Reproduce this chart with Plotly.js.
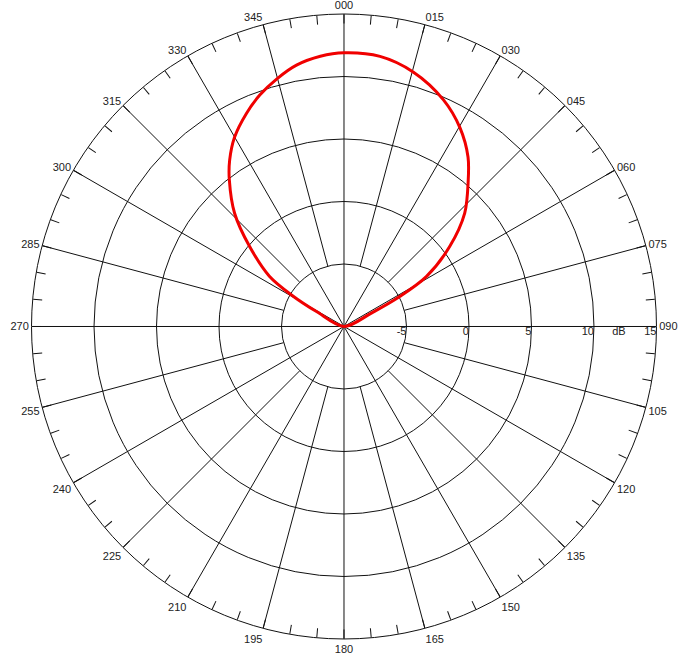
<!DOCTYPE html>
<html>
<head>
<meta charset="utf-8">
<script src="https://cdn.plot.ly/plotly-3.0.1.min.js"></script>
<style>html,body{margin:0;padding:0;background:#fff;}#chart{width:683px;height:658px;}</style>
</head>
<body>
<div id="chart"></div>
<script>
// Pattern data (angle in degrees, level in dB)
var patternTheta = [-64, -61.5, -59, -56, -49.7, -44, -38, -34.5, -30, -24.6, -20, -15, -10.3, -5, 0, 7.6, 15.2, 23.7, 30.3, 36.2, 40.5, 46.8, 52.9, 58.8, 61.7, 63.9, 66];
var patternDb    = [-10, -7.5, -5.1, -2.8, -0.1, 2.6, 4.9, 6.15, 7.5, 8.75, 9.7, 10.55, 11.25, 11.7, 11.9, 11.8, 11.1, 9.8, 8.4, 6.8, 5.3, 3.25, 0.6, -2.3, -4.9, -7.6, -10];

// Axis configuration
var radialRange = [-10, 15];
var radialTicks = [-5, 0, 5, 10, 15];
var radialUnit = 'dB';
var spokeStep = 15;      // spokes every 15 degrees
var innerSpokeStep = 30; // spokes reaching the centre every 30 degrees
var innerRing = -5;
var minorTickStep = 5;
var labelAngle = 90;     // direction along which radial labels are written
var unitPos = 12;        // where the unit label sits on the radial scale

// Build spokes
var spokeR = [], spokeT = [];
for (var a = 0; a < 360; a += spokeStep) {
  var start = (a % innerSpokeStep === 0) ? radialRange[0] : innerRing;
  spokeR.push(start, radialRange[1], null);
  spokeT.push(a, a, null);
}

// Angular ticks & labels
var angTickVals = [], angTickText = [];
for (var t = 0; t < 360; t += minorTickStep) {
  angTickVals.push(t);
  angTickText.push(t % spokeStep === 0 ? ('00' + t).slice(-3) : '');
}

var txtFont = {family: 'Liberation Sans, Arial', size: 11, color: '#222'};

var traces = [
  {
    type: 'scatterpolar', mode: 'lines', r: spokeR, theta: spokeT,
    line: {color: '#111', width: 1}, hoverinfo: 'skip', showlegend: false, connectgaps: false
  },
  {
    type: 'scatterpolar', mode: 'lines', r: patternDb, theta: patternTheta,
    line: {color: 'rgb(240,0,0)', width: 3, shape: 'spline', smoothing: 0.9},
    showlegend: false
  },
  {
    type: 'scatterpolar', mode: 'text', r: radialTicks,
    theta: radialTicks.map(function(){return labelAngle;}),
    text: radialTicks.map(String),
    textposition: 'bottom left', textfont: txtFont,
    showlegend: false, hoverinfo: 'skip', cliponaxis: false
  },
  {
    type: 'scatterpolar', mode: 'text', r: [unitPos], theta: [labelAngle], text: [radialUnit],
    textposition: 'bottom center', textfont: txtFont,
    showlegend: false, hoverinfo: 'skip'
  }
];

var layout = {
  width: 683, height: 658,
  margin: {l: 0, r: 0, t: 0, b: 0},
  paper_bgcolor: '#fff',
  showlegend: false,
  font: {family: 'Liberation Sans, Arial, sans-serif', size: 11, color: '#222'},
  polar: {
    domain: {x: [0.0461, 0.9612], y: [0.0289, 0.9787]},
    bgcolor: '#fff',
    radialaxis: {
      range: radialRange,
      tickmode: 'array', tickvals: radialTicks,
      angle: 0, showticklabels: false,
      showline: false, ticks: '',
      gridcolor: '#111', gridwidth: 1
    },
    angularaxis: {
      rotation: 90, direction: 'clockwise',
      tickmode: 'array', tickvals: angTickVals, ticktext: angTickText,
      ticks: 'inside', ticklen: 9, tickcolor: '#111', tickwidth: 1,
      showgrid: false, showline: true, linecolor: '#111', linewidth: 1,
      tickfont: {size: 11, color: '#222'}
    }
  }
};

Plotly.newPlot('chart', traces, layout, {staticPlot: true});
</script>
</body>
</html>
